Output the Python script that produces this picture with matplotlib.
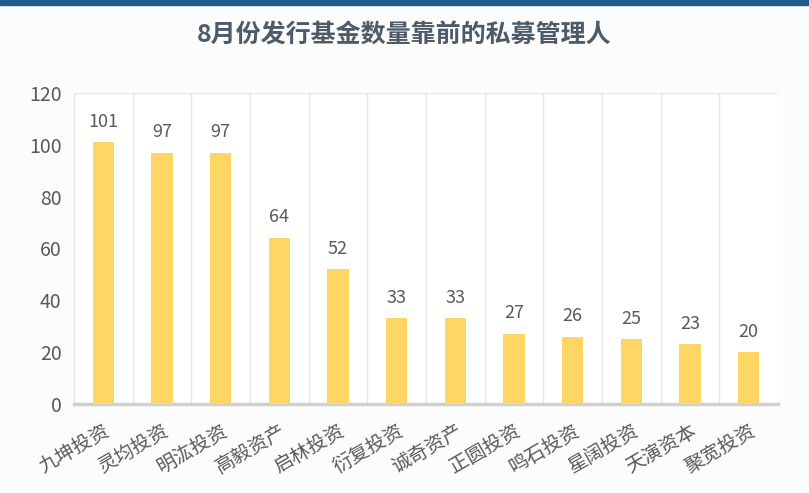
import matplotlib.pyplot as plt
import matplotlib.patches as mpatches
import numpy as np

plt.rcParams['font.family'] = ['Noto Sans CJK SC', 'DejaVu Sans']

# data
managers = ["九坤投资", "灵均投资", "明汯投资", "高毅资产", "启林投资", "衍复投资",
            "诚奇资产", "正圆投资", "鸣石投资", "星阔投资", "天演资本", "聚宽投资"]
counts = [101, 97, 97, 64, 52, 33, 33, 27, 26, 25, 23, 20]
yticks = [0, 20, 40, 60, 80, 100, 120]

TEXT = "#595959"
BAR = "#FDD664"
GRID = "#E6E6E6"

fig = plt.figure(figsize=(8.09, 4.93), dpi=100, facecolor="#FCFCFC")
# top blue strip
fig.patches.append(mpatches.Rectangle((0, 0.99), 1, 0.01, transform=fig.transFigure,
                                      color="#1F5C8C", zorder=0))
ax = fig.add_axes([74 / 809, 1 - 404 / 493, 704 / 809, 311 / 493])
ax.set_facecolor("#FFFFFF")

x = np.arange(len(managers))
ax.bar(x, counts, width=0.36, color=BAR, zorder=3)
for xi, v in zip(x, counts):
    ax.text(xi, v + 4.5, str(v), ha="center", va="bottom", fontsize=13, color=TEXT)

ax.set_xlim(-0.5, len(managers) - 0.5)
ax.set_ylim(0, 120)
ax.set_yticks(yticks)
ax.set_yticklabels([str(t) for t in yticks], fontsize=14, color=TEXT)
ax.set_xticks(x)
ax.set_xticklabels(managers, rotation=30, ha="right", rotation_mode="anchor",
                   fontsize=14, color=TEXT)
ax.tick_params(axis="both", length=0)
ax.tick_params(axis="y", pad=9)
ax.tick_params(axis="x", pad=12)

for b in np.arange(-0.5, len(managers), 1.0):
    ax.axvline(b, color=GRID, linewidth=1, zorder=1)
ax.axhline(120, color=GRID, linewidth=1, zorder=1)

for s in ["top", "right", "left"]:
    ax.spines[s].set_visible(False)
ax.spines["bottom"].set_color("#D0D0D0")
ax.spines["bottom"].set_linewidth(2.5)

fig.text(0.5, 1 - 35 / 493, "8月份发行基金数量靠前的私募管理人", ha="center", va="center",
         fontsize=18, fontweight="bold", color="#4D5A68")

fig.savefig("out.png", dpi=100, facecolor=fig.get_facecolor())
